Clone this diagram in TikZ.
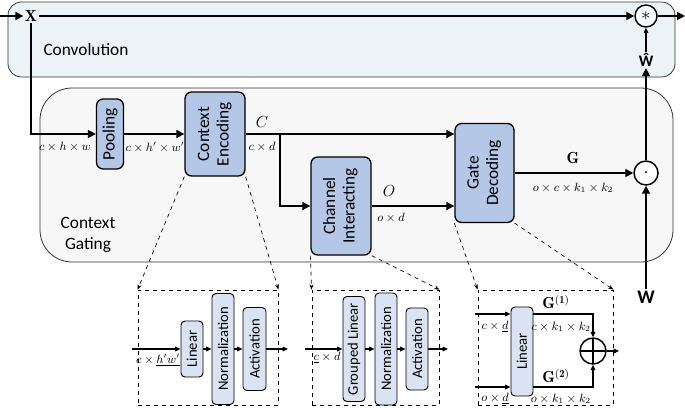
\documentclass[tikz,border=0pt]{standalone}
\usepackage{amsmath}
\usepackage{fontspec}
\setsansfont{Carlito}
\usetikzlibrary{calc,arrows.meta,positioning}

\definecolor{convbg}{HTML}{EBF3F6}
\definecolor{gatebg}{HTML}{F7F7F7}
\definecolor{blkfill}{HTML}{B4C7E7}
\definecolor{subfill}{HTML}{DAE3F3}

\tikzset{
  sz/.style 2 args={minimum width={#1*0.75pt},minimum height={#2*0.75pt}},
  blk/.style={draw,line width=1pt,fill=blkfill,rounded corners=5pt,inner sep=0pt,font=\sffamily\fontsize{13}{14.5}\selectfont},
  sub/.style={draw,line width=0.7pt,fill=subfill,rounded corners=3pt,inner sep=0pt,font=\sffamily\fontsize{11}{12}\selectfont},
  dbox/.style={draw,dashed,line width=0.6pt,inner sep=0pt},
  flow/.style={line width=1.3pt,-{Triangle[length=6pt,width=6pt]}},
  thinflow/.style={line width=0.8pt,-{Triangle[length=4pt,width=3.5pt]}},
  zoomline/.style={dashed,line width=0.5pt,-{Stealth[length=4pt,width=3pt]}},
  lab/.style={font=\small,inner sep=1pt},
  big/.style={font=\large,inner sep=1pt},
  op/.style={circle,draw,line width=1.1pt,fill=white,inner sep=0pt},
}

\begin{document}
\begin{tikzpicture}[x=0.75pt,y=-0.75pt]
    \useasboundingbox (0,0) rectangle (685,407);
    % panels
    \draw[fill=convbg,draw=black!80,line width=0.6pt,rounded corners=10pt] (8,2) rectangle (675,77);
    \draw[fill=gatebg,draw=black!80,line width=0.6pt,rounded corners=24pt] (40,88) rectangle (673,262);
    \node[font=\sffamily\fontsize{13}{15}\selectfont] (convlab) at (86,50) {Convolution};
    \node[font=\sffamily\fontsize{13}{15.5}\selectfont,align=center] (gatelab) at (88,235) {Context\\Gating};

    % convolution path
    \coordinate (in) at (0,16);
    \coordinate (out) at (685,16);
    \node[big] (X) at (31,16) {$\mathbf{X}$};
    \node[op,sz={22}{22}] (conv) at (646,16) {\Large$\ast$};
    \node[font=\sffamily\bfseries\large,inner sep=1pt] (what) at (646,60) {\^{W}};

    % gating blocks
    \node[blk,sz={27}{70}] (pool) at (110,134) {\rotatebox{90}{Pooling}};
    \node[blk,sz={60}{84}] (ce) at (215,134) {\rotatebox{90}{\begin{tabular}{@{}c@{}}Context\\Encoding\end{tabular}}};
    \node[blk,sz={60}{98}] (ci) at (341,206) {\rotatebox{90}{\begin{tabular}{@{}c@{}}Channel\\Interacting\end{tabular}}};
    \node[blk,sz={59}{99}] (gd) at (484.5,173) {\rotatebox{90}{\begin{tabular}{@{}c@{}}Gate\\Decoding\end{tabular}}};
    \node[op,sz={24}{24}] (had) at (646,173) {\Large$\cdot$};
    \node[font=\sffamily\bfseries\Large,inner sep=1pt] (W) at (646,297) {W};
    \coordinate (br) at (280,134);

    \draw[flow] (in) -- (X);
    \draw[flow] (X) -- (conv);
    \draw[flow] (conv) -- (out);
    \draw[flow] (X) |- (pool);
    \draw[flow] (pool) -- (ce);
    \draw[flow] (ce) -- (ce -| gd.west);
    \draw[flow] (br) |- (ci);
    \draw[flow] (ci) -- (ci -| gd.west);
    \draw[flow] (gd) -- (had);
    \draw[flow] (had) -- (what);
    \draw[thinflow] (what) -- (conv);
    \draw[flow] (W) -- (had);

    \node[lab] (lhw) at (65,147) {$c\times h\times w$};
    \node[lab] (lhwp) at (155,147) {$c\times h'\times w'$};
    \node[big] (lC) at (262,122) {$C$};
    \node[lab] (lcd) at (262,147) {$c\times d$};
    \node[big] (lO) at (389,191) {$O$};
    \node[lab] (lod) at (391,218) {$o\times d$};
    \node[big] (lG) at (573,158) {$\mathbf{G}$};
    \node[lab] (lock) at (573,188) {$o\times c\times k_1\times k_2$};

    % detail boxes
    \node[dbox,sz={140}{115}] (d1) at (208,347.5) {};
    \node[dbox,sz={127}{115}] (d2) at (375.5,347.5) {};
    \node[dbox,sz={135}{115}] (d3) at (545.5,347.5) {};
    \draw[zoomline] (ce.south west) -- (d1.north west);
    \draw[zoomline] (ce.south east) -- (d1.north east);
    \draw[zoomline] (ci.south west) -- (d2.north west);
    \draw[zoomline] (ci.south east) -- (d2.north east);
    \draw[zoomline] (gd.south west) -- (d3.north west);
    \draw[zoomline] (gd.south east) -- (d3.north east);

    % context encoding
    \node[sub,sz={22}{56}] (lin1) at (192,349) {\rotatebox{90}{Linear}};
    \node[sub,sz={22}{111}] (nor1) at (223,349) {\rotatebox{90}{Normalization}};
    \node[sub,sz={23}{83}] (act1) at (254.5,349) {\rotatebox{90}{Activation}};
    \coordinate (i1) at (132,349);
    \coordinate (o1) at (288,349);
    \draw[thinflow] (i1) -- (lin1);
    \draw[thinflow] (lin1) -- (nor1);
    \draw[thinflow] (nor1) -- (act1);
    \draw[thinflow] (act1) -- (o1);
    \node[lab] (l1) at (158,360) {$c\times\underline{h'w'}$};

    % channel interacting
    \node[sub,sz={22}{105}] (gl) at (354,349) {\rotatebox{90}{Grouped Linear}};
    \node[sub,sz={22}{112}] (nor2) at (386,349) {\rotatebox{90}{Normalization}};
    \node[sub,sz={22}{82}] (act2) at (417,349) {\rotatebox{90}{Activation}};
    \coordinate (i2) at (305,349);
    \coordinate (o2) at (448,349);
    \draw[thinflow] (i2) -- (gl);
    \draw[thinflow] (gl) -- (nor2);
    \draw[thinflow] (nor2) -- (act2);
    \draw[thinflow] (act2) -- (o2);
    \node[lab] (l2) at (327,358) {$\underline{c}\times d$};

    % gate decoding
    \node[sub,sz={22}{89}] (lin3) at (522,351.5) {\rotatebox{90}{Linear}};
    \node[op,sz={26}{26},path picture={\draw[line width=1.1pt]
        (path picture bounding box.north) -- (path picture bounding box.south)
        (path picture bounding box.west) -- (path picture bounding box.east);}] (sum) at (593,351) {};
    \coordinate (i3a) at (475,314);
    \coordinate (i3b) at (475,387);
    \coordinate (o3) at (619,351);
    \draw[thinflow] (i3a) -- (i3a -| lin3.west);
    \draw[thinflow] (i3b) -- (i3b -| lin3.west);
    \draw[thinflow] (i3a -| lin3.east) -| (sum);
    \draw[thinflow] (i3b -| lin3.east) -| (sum);
    \draw[thinflow] (sum) -- (o3);
    \node[lab] (l3a) at (495,327) {$c\times\underline{d}$};
    \node[lab] (l3b) at (495,399) {$o\times\underline{d}$};
    \node[big] (lG1) at (556,302) {$\mathbf{G}^{(\mathbf{1})}$};
    \node[big] (lG2) at (556,376) {$\mathbf{G}^{(\mathbf{2})}$};
    \node[lab] (l3c) at (561,327) {$c\times k_1\times k_2$};
    \node[lab] (l3d) at (561,399) {$o\times k_1\times k_2$};
\end{tikzpicture}
\end{document}
